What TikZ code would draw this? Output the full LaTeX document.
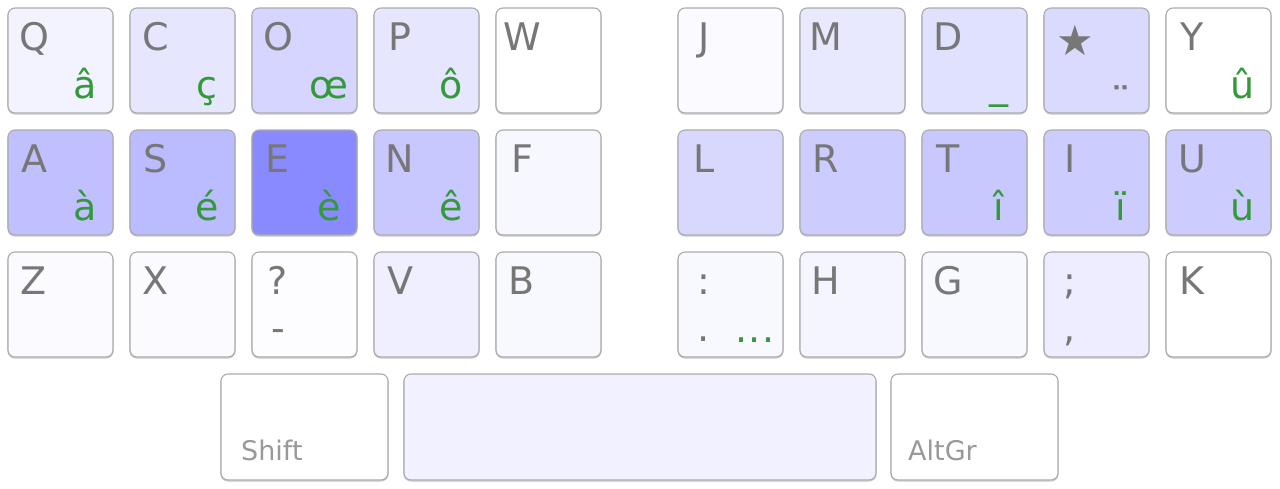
\documentclass[tikz,border=0pt]{standalone}
\usepackage{fontspec}
\setmainfont{DejaVu Sans}
\usetikzlibrary{calc}
\definecolor{keyline}{HTML}{ABABAB}
\definecolor{maingray}{HTML}{777777}
\definecolor{lightgray}{HTML}{999999}
\definecolor{subgreen}{HTML}{33993A}
\tikzset{
  keybox/.style={draw=keyline, line width=1.1pt, rounded corners=7pt, inner sep=0pt, outer sep=0pt,
    minimum width=105pt, minimum height=105pt,
    preaction={draw=black!22, line width=1.1pt, transform canvas={yshift=-1pt}}},
  mainlbl/.style={anchor=base, inner sep=0pt, text=maingray, font=\fontsize{38}{38}\selectfont},
  sublbl/.style={anchor=base, inner sep=0pt, text=subgreen, font=\fontsize{38}{38}\selectfont},
  smalllbl/.style={anchor=base west, inner sep=0pt, text=lightgray, font=\fontsize{27}{27}\selectfont},
}
% name, left, top, fill (HTML), main label
\newcommand\kkey[5]{%
  \definecolor{fill#1}{HTML}{#4}%
  \node[keybox, fill=fill#1] (#1) at ({#2+52.5},{#3+52.5}) {};
  \node[mainlbl] (#1-m) at ($(#1.north west)+(26,42)$) {#5};
}
% green label at bottom right
\newcommand\ksub[2]{%
  \node[sublbl] (#1-s) at ($(#1.north west)+(77,90)$) {#2};
}
% gray label at bottom left
\newcommand\klow[2]{%
  \node[mainlbl] (#1-l) at ($(#1.north west)+(26,89)$) {#2};
}
\begin{document}
\begin{tikzpicture}[x=1pt,y=-1pt]
\useasboundingbox (0,0) rectangle (1280,488);
% top row
\kkey{q}{8}{8}{F3F3FF}{Q}\ksub{q}{â}
\kkey{c}{130}{8}{E6E6FF}{C}\ksub{c}{ç}
\kkey{o}{252}{8}{D5D5FF}{O}\ksub{o}{œ}
\kkey{p}{374}{8}{E6E6FF}{P}\ksub{p}{ô}
\kkey{w}{496}{8}{FFFFFF}{W}
\kkey{j}{678}{8}{FBFBFF}{J}
\kkey{m}{800}{8}{E8E8FF}{M}
\kkey{d}{922}{8}{E0E0FF}{D}\ksub{d}{\_}
\definecolor{fillstar}{HTML}{DADAFF}
\node[keybox, fill=fillstar] (star) at ({1044+52.5},{8+52.5}) {};
\node[mainlbl, font=\fontsize{42}{42}\selectfont] (star-m) at ($(star.north west)+(31,47)$) {★};
\node[sublbl, text=maingray, font=\fontsize{42}{42}\selectfont] (star-s) at ($(star.north west)+(77,109)$) {¨};
\kkey{y}{1166}{8}{FFFFFF}{Y}\ksub{y}{û}
% home row
\kkey{a}{8}{130}{C0C0FF}{A}\ksub{a}{à}
\kkey{s}{130}{130}{BBBBFF}{S}\ksub{s}{é}
\kkey{e}{252}{130}{8A8AFF}{E}\ksub{e}{è}
\kkey{n}{374}{130}{C8C8FF}{N}\ksub{n}{ê}
\kkey{f}{496}{130}{F7F7FF}{F}
\kkey{l}{678}{130}{D8D8FF}{L}
\kkey{r}{800}{130}{CCCCFF}{R}
\kkey{t}{922}{130}{C8C8FF}{T}\ksub{t}{î}
\kkey{i}{1044}{130}{CCCCFF}{I}\ksub{i}{ï}
\kkey{u}{1166}{130}{CCCCFF}{U}\ksub{u}{ù}
% bottom row
\kkey{z}{8}{252}{FAFAFF}{Z}
\kkey{x}{130}{252}{FBFBFF}{X}
\kkey{qm}{252}{252}{FDFDFF}{?}\klow{qm}{-}
\kkey{v}{374}{252}{EFEFFF}{V}
\kkey{b}{496}{252}{F8F8FF}{B}
\kkey{colon}{678}{252}{F8F8FF}{:}\klow{colon}{.}\ksub{colon}{.\kern1.5pt.\kern1.5pt.}
\kkey{h}{800}{252}{F5F5FF}{H}
\kkey{g}{922}{252}{F8F8FF}{G}
\kkey{semi}{1044}{252}{EDEDFF}{;}\klow{semi}{,}
\kkey{k}{1166}{252}{FFFFFF}{K}
% thumb row
\node[keybox, fill=white, minimum width=167pt, minimum height=106pt] (shift) at ({221+83.5},{374+53}) {};
\node[smalllbl] (shift-l) at ($(shift.north west)+(20,86)$) {Shift};
\definecolor{fillspace}{HTML}{F1F1FF}
\node[keybox, fill=fillspace, minimum width=472pt, minimum height=106pt] (space) at ({404+236},{374+53}) {};
\node[keybox, fill=white, minimum width=167pt, minimum height=106pt] (altgr) at ({891+83.5},{374+53}) {};
\node[smalllbl] (altgr-l) at ($(altgr.north west)+(17,86)$) {AltGr};
\end{tikzpicture}
\end{document}
